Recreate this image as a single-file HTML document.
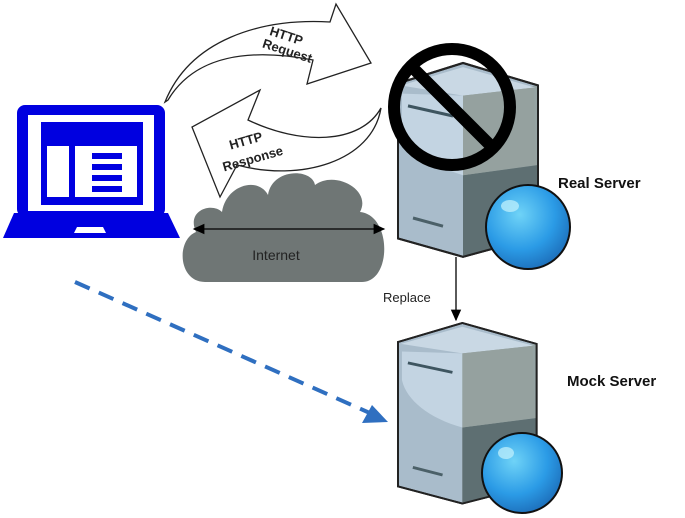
<!DOCTYPE html>
<html><head><meta charset="utf-8"><style>
html,body{margin:0;padding:0;background:#fff;}
svg{display:block;font-family:"Liberation Sans",sans-serif;}
</style></head><body>
<svg width="685" height="518" viewBox="0 0 685 518" xmlns="http://www.w3.org/2000/svg">
<defs>
<marker id="ah" markerWidth="10" markerHeight="10" refX="8" refY="5" orient="auto-start-reverse"><path d="M0,1 L9,5 L0,9 Z" fill="#000"/></marker>
<radialGradient id="gl" cx="0.4" cy="0.35" r="0.7"><stop offset="0" stop-color="#6fd3f7"/><stop offset="0.6" stop-color="#2b9be6"/><stop offset="1" stop-color="#1c6cb8"/></radialGradient>
<g id="srv">
<path d="M0,20 L65,0 L140,22 L140,170 L65,190 L0,172 Z" fill="#a9bccb" stroke="#222" stroke-width="2"/>
<path d="M65,30 L140,22 L140,170 L65,190 Z" fill="#95a3a3"/>
<path d="M65,110 L140,100 L140,170 L65,190 Z" fill="#5e6f72"/>
<path d="M3,22 L65,4 L137,24 L65,32 Z" fill="#c9d8e4"/>
<path d="M4,30 L65,32 L65,110 C30,100 8,80 4,60 Z" fill="#c3d4e2"/>
<path d="M65,32 L136,24 L138,100 L65,110 Z" fill="#95a19f"/>
<path d="M0,20 L65,0 L140,22 L140,170 L65,190 L0,172 Z" fill="none" stroke="#222" stroke-width="2"/>
<line x1="10" y1="42" x2="55" y2="52" stroke="#3e5560" stroke-width="3"/>
<line x1="15" y1="152" x2="45" y2="160" stroke="#4b6068" stroke-width="3"/>
</g>
</defs>

<!-- laptop -->
<rect x="17" y="105" width="148" height="112" rx="8" fill="#0000e0"/>
<rect x="28" y="115" width="126" height="96" fill="#fff"/>
<rect x="41" y="122" width="102" height="83" fill="#0000e0"/>
<rect x="47" y="146" width="22" height="51" fill="#fff"/>
<rect x="75" y="146" width="62" height="51" fill="#fff"/>
<rect x="92" y="153" width="30" height="6" fill="#0000e0"/>
<rect x="92" y="164" width="30" height="6" fill="#0000e0"/>
<rect x="92" y="175" width="30" height="6" fill="#0000e0"/>
<rect x="92" y="186" width="30" height="6" fill="#0000e0"/>
<path d="M14,213 L168,213 L180,238 L3,238 Z" fill="#0000e0"/>
<path d="M77,227 L103,227 L106,233 L74,233 Z" fill="#fff"/>

<!-- cloud -->
<path d="M205,282 C178,282 176,240 196,232 C186,210 212,202 222,212 C226,185 258,176 268,195 C272,168 312,168 315,185 C335,170 372,190 360,212 C392,215 392,282 362,282 Z" fill="#6f7675"/>
<line x1="194" y1="229" x2="384" y2="229" stroke="#000" stroke-width="1.3" marker-end="url(#ah)" marker-start="url(#ah)"/>
<text x="276" y="260" font-size="14" fill="#222" text-anchor="middle">Internet</text>

<!-- request arrow -->
<path d="M165,102 C190,40 260,18 330,22 L336,4 L371,63 L307,84 L313,60 C250,48 195,55 168,100 Z" fill="#fff" stroke="#222" stroke-width="1.3"/>
<text transform="translate(285,40) rotate(18)" font-size="13" font-weight="bold" fill="#222" text-anchor="middle">HTTP</text>
<text transform="translate(286,55) rotate(18)" font-size="13" font-weight="bold" fill="#222" text-anchor="middle">Request</text>

<!-- response arrow -->
<path d="M381,108 C360,145 300,145 248,120 L260,90 L192,127 L220,197 L237,165 C300,182 372,162 381,108 Z" fill="#fff" stroke="#222" stroke-width="1.3"/>
<text transform="translate(247,145) rotate(-16)" font-size="13" font-weight="bold" fill="#222" text-anchor="middle">HTTP</text>
<text transform="translate(254,163) rotate(-16)" font-size="13" font-weight="bold" fill="#222" text-anchor="middle">Response</text>

<!-- real server -->
<use href="#srv" transform="translate(398,63) scale(1,1.02)"/>
<circle cx="528" cy="227" r="42" fill="url(#gl)" stroke="#111" stroke-width="2"/>
<ellipse cx="510" cy="206" rx="9" ry="6" fill="#b8ecfb" opacity="0.8"/>
<circle cx="452" cy="107" r="58" fill="none" stroke="#000" stroke-width="12"/>
<line x1="411" y1="66" x2="493" y2="148" stroke="#000" stroke-width="12"/>
<text x="558" y="188" font-size="15" font-weight="bold" fill="#111">Real Server</text>

<!-- replace -->
<line x1="456" y1="257" x2="456" y2="320" stroke="#000" stroke-width="1.3" marker-end="url(#ah)"/>
<text x="383" y="302" font-size="13" fill="#222">Replace</text>

<!-- mock server -->
<use href="#srv" transform="translate(398,323) scale(0.99,0.95)"/>
<circle cx="522" cy="473" r="40" fill="url(#gl)" stroke="#111" stroke-width="2"/>
<ellipse cx="506" cy="453" rx="8" ry="6" fill="#b8ecfb" opacity="0.8"/>
<text x="567" y="386" font-size="15" font-weight="bold" fill="#111">Mock Server</text>

<!-- dashed arrow -->
<line x1="75" y1="282" x2="372" y2="414" stroke="#2f6fc0" stroke-width="4" stroke-dasharray="16,10"/>
<path d="M388,422 L362,423 L372,405 Z" fill="#2f6fc0"/>
</svg>
</body></html>
